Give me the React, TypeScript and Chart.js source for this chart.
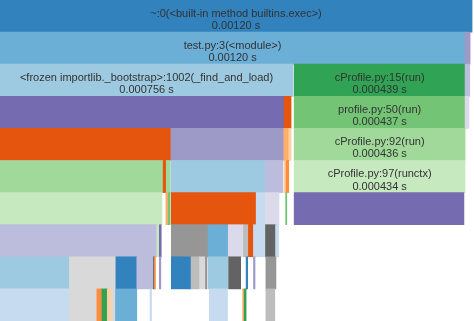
import React, { useEffect, useRef } from "react";
import { Chart, registerables } from "chart.js";

Chart.register(...registerables);

// Icicle rows (depth levels, top to bottom)
const ROWS = ["d0", "d1", "d2", "d3", "d4", "d5", "d6", "d7", "d8", "d9"];

// Total span of the x axis in microseconds
const AXIS_MAX_US = 1223;

// Each frame: depth row, start offset (µs), own duration (µs), colour
const FRAME_ROW = [
  0,
  1, 1,
  2, 2, 2,
  3, 3, 3, 3,
  4, 4, 4, 4, 4,
  5, 5, 5, 5, 5, 5, 5, 5,
  6, 6, 6, 6, 6, 6, 6, 6,
  7, 7, 7, 7, 7, 7, 7, 7, 7, 7, 7,
  8, 8, 8, 8, 8, 8, 8, 8, 8, 8, 8, 8, 8, 8, 8, 8,
  9, 9, 9, 9, 9, 9, 9, 9, 9, 9, 9, 9,
];
const FRAME_START = [
  0,
  0, 1200,
  0, 759, 1200,
  0, 733, 759, 1200,
  0, 441, 732, 745, 759,
  0, 421, 429, 441, 684, 733, 738, 759,
  0, 428, 434, 442, 661, 685, 737, 759,
  0, 405, 411, 442, 537, 589, 628, 641, 654, 685, 711,
  0, 179, 299, 353, 396, 398.5, 411, 442, 493, 515, 530, 537, 590, 635, 654, 686,
  0, 179, 250, 263, 277, 288, 298, 387, 540, 626, 630, 686,
];
const FRAME_TIME = [
  1218,
  1200, 13,
  756, 441, 12,
  733, 18, 441, 10,
  441, 291, 13, 6, 441,
  421, 8, 10, 243, 46, 5, 7, 441,
  418, 5, 5, 218, 23, 35, 3, 438,
  404, 5, 5, 95, 52, 39, 13, 13, 30, 26, 8,
  179, 120, 54, 43, 2.5, 2.5, 4, 51, 22, 15, 4, 52, 31, 4, 4, 26,
  179, 71, 13, 14, 11, 10, 55, 4, 47, 3.5, 5, 23,
];
const FRAME_COLOR = [
  "#3182bd",
  "#6baed6", "#9e9ac8",
  "#9ecae1", "#31a354", "#bcbddc",
  "#756bb1", "#e6550d", "#74c476", "#dadaeb",
  "#e6550d", "#9e9ac8", "#fdae6b", "#fdd0a2", "#a1d99b",
  "#a1d99b", "#e6550d", "#a1d99b", "#9ecae1", "#bcbddc", "#fdd0a2", "#fd8d3c", "#c7e9c0",
  "#c7e9c0", "#fdae6b", "#74c476", "#e6550d", "#c6dbef", "#dadaeb", "#74c476", "#756bb1",
  "#bcbddc", "#c7e9c0", "#756bb1", "#969696", "#6baed6", "#dadaeb", "#bdbdbd", "#e6550d", "#c6dbef", "#636363", "#c6dbef",
  "#9ecae1", "#d9d9d9", "#3182bd", "#bcbddc", "#636363", "#fd8d3c", "#9e9ac8", "#3182bd", "#bdbdbd", "#d9d9d9", "#969696", "#9ecae1", "#636363", "#3182bd", "#9e9ac8", "#969696",
  "#c6dbef", "#d9d9d9", "#fd8d3c", "#31a354", "#fdd0a2", "#d9d9d9", "#6baed6", "#c6dbef", "#c6dbef", "#fdae6b", "#31a354", "#bdbdbd",
];

// Labelled frames (index into the frame arrays)
const LABEL_FRAME = [0, 1, 3, 4, 8, 14, 22];
const LABEL_NAME = [
  "~:0(<built-in method builtins.exec>)",
  "test.py:3(<module>)",
  "<frozen importlib._bootstrap>:1002(_find_and_load)",
  "cProfile.py:15(run)",
  "profile.py:50(run)",
  "cProfile.py:92(run)",
  "cProfile.py:97(runctx)",
];
const LABEL_TIME = [
  "0.00120 s",
  "0.00120 s",
  "0.000756 s",
  "0.000439 s",
  "0.000437 s",
  "0.000436 s",
  "0.000434 s",
];

const labelPlugin = {
  id: "frameLabels",
  afterDatasetsDraw(chart: any) {
    const meta = chart.getDatasetMeta(0);
    const ctx = chart.ctx;
    ctx.save();
    ctx.fillStyle = "#333";
    ctx.font = "11px 'Liberation Sans', Arial, sans-serif";
    ctx.textAlign = "center";
    ctx.textBaseline = "alphabetic";
    LABEL_FRAME.forEach((fi, i) => {
      const el = meta.data[fi];
      if (!el) return;
      const p = el.getProps(["x", "base", "y"], true);
      const cx = (p.x + p.base) / 2;
      ctx.fillText(LABEL_NAME[i], cx, p.y + 0.5);
      ctx.fillText(LABEL_TIME[i], cx, p.y + 13);
    });
    ctx.restore();
  },
};

export default function App() {
  const ref = useRef<HTMLCanvasElement | null>(null);
  useEffect(() => {
    if (!ref.current) return;
    const data = FRAME_ROW.map((r, i) => ({
      x: [FRAME_START[i], FRAME_START[i] + FRAME_TIME[i]],
      y: ROWS[r],
    }));
    const chart = new Chart(ref.current, {
      type: "bar",
      data: {
        labels: ROWS,
        datasets: [
          {
            data: data as any,
            backgroundColor: FRAME_COLOR,
            borderWidth: 0,
            barPercentage: 1,
            categoryPercentage: 1,
          },
        ],
      },
      options: {
        indexAxis: "y",
        animation: false,
        responsive: false,
        maintainAspectRatio: false,
        layout: { padding: 0 },
        plugins: { legend: { display: false }, tooltip: { enabled: false } },
        scales: {
          x: { type: "linear", min: 0, max: AXIS_MAX_US, display: false },
          y: { type: "category", display: false, offset: true },
        },
      },
      plugins: [labelPlugin],
    });
    return () => chart.destroy();
  }, []);
  return (
    <div style={{ position: "absolute", left: 0, top: 0, width: 474, height: 321, background: "#fff" }}>
      <canvas ref={ref} width={474} height={321} style={{ display: "block" }} />
    </div>
  );
}
